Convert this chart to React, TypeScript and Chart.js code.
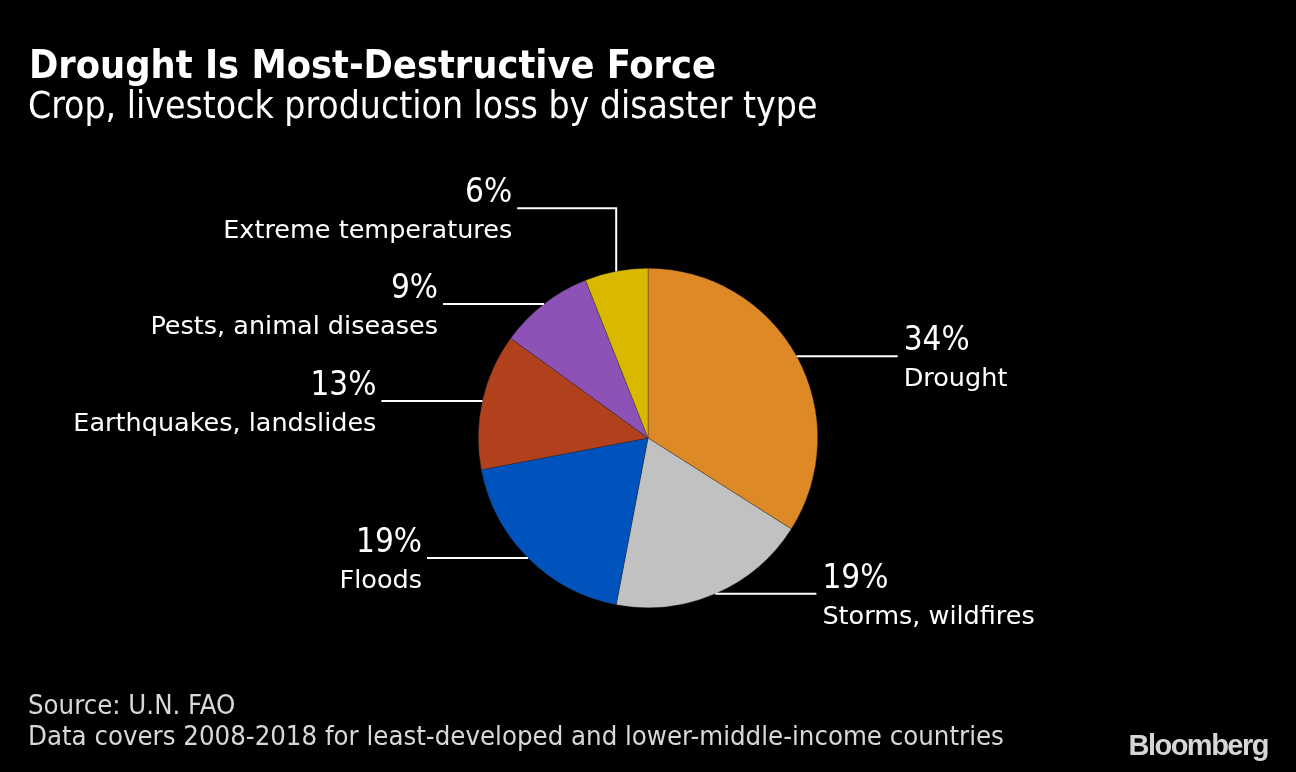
import React, { useEffect, useRef } from "react";
import { Chart, registerables } from "chart.js";

Chart.register(...registerables);

const categories = [
  "Drought",
  "Storms, wildfires",
  "Floods",
  "Earthquakes, landslides",
  "Pests, animal diseases",
  "Extreme temperatures",
];
const shares = [34, 19, 19, 13, 9, 6];
const sliceColors = ["#DD8A26", "#C1C1C1", "#0053BD", "#B1401D", "#8E52B7", "#D9B900"];
// leader line shape: vertical rise before the horizontal run (px)
const leaderRise = [0, 0, 0, 0, 0, 63];

const TITLE = "Drought Is Most-Destructive Force";
const SUBTITLE = "Crop, livestock production loss by disaster type";
const SOURCE = "Source: U.N. FAO";
const NOTE = "Data covers 2008-2018 for least-developed and lower-middle-income countries";

const PCT_FONT = "33px 'DejaVu Sans Condensed'";
const NAME_FONT = "25.5px 'DejaVu Sans'";

const calloutPlugin = {
  id: "callouts",
  afterDraw(chart: any) {
    const ctx = chart.ctx as CanvasRenderingContext2D;
    const meta = chart.getDatasetMeta(0);
    const labels = chart.data.labels as string[];
    const values = chart.data.datasets[0].data as number[];
    ctx.save();
    ctx.strokeStyle = "#ffffff";
    ctx.fillStyle = "#ffffff";
    ctx.lineWidth = 2;
    meta.data.forEach((arc: any, i: number) => {
      const p = arc.getProps(["x", "y", "startAngle", "endAngle", "outerRadius"], true);
      const mid = (p.startAngle + p.endAngle) / 2;
      const sx = p.x + Math.cos(mid) * p.outerRadius;
      const sy = p.y + Math.sin(mid) * p.outerRadius;
      const right = Math.cos(mid) > 0;
      const rise = leaderRise[i] || 0;
      const run = rise ? 99 : 101;
      const ey = sy - rise;
      const ex = right ? sx + run : sx - run;
      ctx.beginPath();
      ctx.moveTo(sx, sy);
      if (rise) ctx.lineTo(sx, ey);
      ctx.lineTo(ex, ey);
      ctx.stroke();
      const tx = right ? ex + 6 : ex - 5;
      ctx.textAlign = right ? "left" : "right";
      ctx.textBaseline = "alphabetic";
      ctx.font = PCT_FONT;
      ctx.fillText(values[i] + "%", tx, ey - 6);
      ctx.font = NAME_FONT;
      ctx.fillText(labels[i], tx, ey + 30);
    });
    ctx.restore();
  },
};

export default function App() {
  const ref = useRef<HTMLCanvasElement | null>(null);

  useEffect(() => {
    if (!ref.current) return;
    const chart = new Chart(ref.current, {
      type: "pie",
      data: {
        labels: categories,
        datasets: [
          {
            data: shares,
            backgroundColor: sliceColors,
            borderColor: "rgba(40,40,40,0.6)",
            borderWidth: 0.6,
          },
        ],
      },
      options: {
        responsive: false,
        animation: false,
        devicePixelRatio: 1,
        layout: { padding: { top: 268, bottom: 164, left: 400, right: 400 } },
        plugins: {
          legend: { display: false },
          tooltip: { enabled: false },
          title: { display: false },
        },
      },
      plugins: [calloutPlugin],
    });
    return () => chart.destroy();
  }, []);

  const base: React.CSSProperties = {
    position: "absolute",
    whiteSpace: "nowrap",
    lineHeight: 1,
    margin: 0,
  };

  return (
    <div
      style={{
        position: "absolute",
        left: 0,
        top: 0,
        width: 1296,
        height: 772,
        background: "#000000",
        overflow: "hidden",
        color: "#ffffff",
      }}
    >
      <canvas
        ref={ref}
        width={1296}
        height={772}
        style={{ position: "absolute", left: 0, top: 0, width: 1296, height: 772 }}
      />
      <div
        style={{
          ...base,
          left: 29,
          top: 45,
          fontFamily: "'DejaVu Sans Condensed'",
          fontWeight: "bold",
          fontSize: 39.3,
        }}
      >
        {TITLE}
      </div>
      <div
        style={{
          ...base,
          left: 28,
          top: 87,
          fontFamily: "'DejaVu Sans Condensed'",
          fontSize: 37,
        }}
      >
        {SUBTITLE}
      </div>
      <div
        style={{
          ...base,
          left: 28,
          top: 691,
          fontFamily: "'DejaVu Sans Condensed'",
          fontSize: 27.3,
          color: "#d8d8d8",
        }}
      >
        {SOURCE}
      </div>
      <div
        style={{
          ...base,
          left: 28,
          top: 722,
          fontFamily: "'DejaVu Sans Condensed'",
          fontSize: 27.3,
          color: "#d8d8d8",
        }}
      >
        {NOTE}
      </div>
      <div
        style={{
          ...base,
          right: 28,
          top: 731,
          fontFamily: "'Liberation Sans'",
          fontWeight: "bold",
          fontSize: 29,
          letterSpacing: -1.5,
          color: "#d6d6d6",
        }}
      >
        Bloomberg
      </div>
    </div>
  );
}
